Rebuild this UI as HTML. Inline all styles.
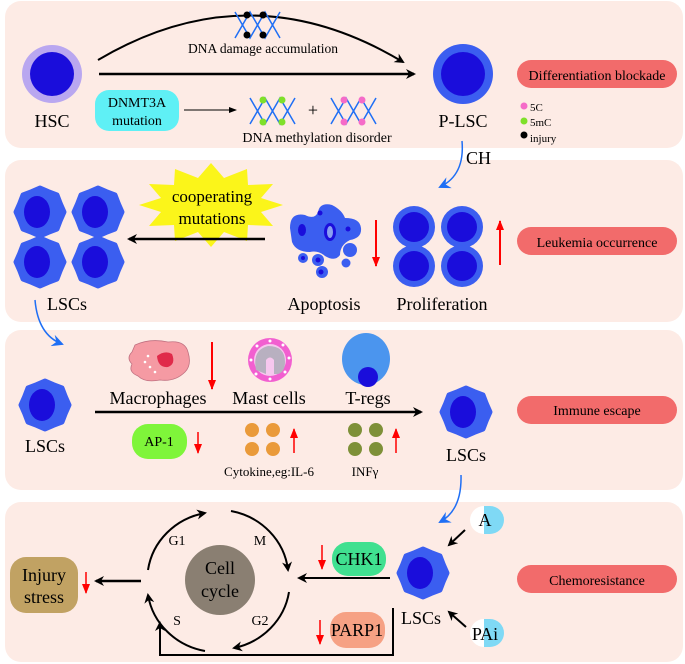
<!DOCTYPE html>
<html><head><meta charset="utf-8"><style>
html,body{margin:0;padding:0;background:#fff;}
svg{display:block;font-family:"Liberation Serif",serif;}
</style></head><body>
<svg width="685" height="664" viewBox="0 0 685 664" xmlns="http://www.w3.org/2000/svg">
<defs>
<marker id="ah" markerWidth="10" markerHeight="10" refX="8" refY="5" orient="auto" markerUnits="userSpaceOnUse"><path d="M0,0 L10,5 L0,10 L3,5 Z" fill="#000"/></marker>
<marker id="ahs" markerWidth="8" markerHeight="8" refX="7" refY="4" orient="auto" markerUnits="userSpaceOnUse"><path d="M0,1 L8,4 L0,7 Z" fill="#000"/></marker>
<marker id="ahb" markerWidth="12" markerHeight="12" refX="10" refY="6" orient="auto" markerUnits="userSpaceOnUse"><path d="M0,0 L12,6 L0,12 L4,6 Z" fill="#1f6ff5"/></marker>
<marker id="ahr" markerWidth="10" markerHeight="8" refX="9" refY="4" orient="auto" markerUnits="userSpaceOnUse"><path d="M0,0 L10,4 L0,8 Z" fill="#f00"/></marker>
<g id="lsc">
<polygon points="24,0 20.3,8.4 17,17 8.4,20.3 0,24 -8.4,20.3 -17,17 -20.3,8.4 -24,0 -20.3,-8.4 -17,-17 -8.4,-20.3 0,-24 8.4,-20.3 17,-17 20.3,-8.4" fill="#3b5ef0" stroke="#3b5ef0" stroke-width="5" stroke-linejoin="round"/>
<ellipse cx="-3" cy="0" rx="13" ry="16" fill="#1a0ddb"/>
</g>
<g id="dna" stroke="#1f6ff5" stroke-width="1.5" fill="none">
<polyline points="0,0 15,26 30,0 45,26"/><polyline points="0,26 15,0 30,26 45,0"/>
</g>
</defs>
<rect x="5" y="1" width="678" height="147" rx="16" fill="#fdebe5"/>
<rect x="5" y="160" width="678" height="162" rx="16" fill="#fdebe5"/>
<rect x="5" y="330" width="678" height="160" rx="16" fill="#fdebe5"/>
<rect x="5" y="502" width="678" height="160" rx="16" fill="#fdebe5"/>

<!-- panel 1 -->
<ellipse cx="52" cy="74" rx="30" ry="29" fill="#b9a7f0"/><circle cx="52" cy="74" r="22" fill="#1a0ddb"/>
<text x="52" y="127" font-size="18" text-anchor="middle">HSC</text>
<path d="M98,60 Q250,-30 403,62" stroke="#000" stroke-width="2" fill="none" marker-end="url(#ah)"/>
<line x1="99" y1="74" x2="414" y2="74" stroke="#000" stroke-width="2.5" marker-end="url(#ah)"/>
<use href="#dna" x="235" y="12"/>
<g fill="#000"><circle cx="247" cy="15" r="3.5"/><circle cx="263" cy="15" r="3.5"/><circle cx="247" cy="35" r="3.5"/><circle cx="263" cy="35" r="3.5"/></g>
<text x="263" y="53" font-size="13.5" text-anchor="middle">DNA damage accumulation</text>
<rect x="95" y="90" width="84" height="41" rx="14" fill="#5ff0f5"/>
<text x="137" y="107" font-size="14" text-anchor="middle">DNMT3A</text>
<text x="137" y="125" font-size="14" text-anchor="middle">mutation</text>
<line x1="184" y1="110" x2="236" y2="110" stroke="#000" stroke-width="1" marker-end="url(#ahs)"/>
<use href="#dna" x="250" y="98"/>
<g fill="#7fe02a"><circle cx="263" cy="100" r="3.5"/><circle cx="282" cy="100" r="3.5"/><circle cx="263" cy="122" r="3.5"/><circle cx="282" cy="122" r="3.5"/></g>
<text x="313" y="116" font-size="18" text-anchor="middle">+</text>
<use href="#dna" x="331" y="98"/>
<g fill="#f56bc8"><circle cx="344" cy="100" r="3.5"/><circle cx="362" cy="100" r="3.5"/><circle cx="344" cy="122" r="3.5"/><circle cx="362" cy="122" r="3.5"/></g>
<text x="317" y="142" font-size="14" text-anchor="middle">DNA methylation disorder</text>
<circle cx="463" cy="74" r="30" fill="#3b5ef0"/><circle cx="463" cy="74" r="22" fill="#1a0ddb"/>
<text x="463" y="127" font-size="18" text-anchor="middle">P-LSC</text>
<rect x="517" y="60" width="160" height="28" rx="14" fill="#f26b6b"/>
<text x="597" y="80" font-size="14" text-anchor="middle">Differentiation blockade</text>
<circle cx="524" cy="106" r="3.5" fill="#f56bc8"/><text x="530" y="111" font-size="11">5C</text>
<circle cx="524" cy="121" r="3.5" fill="#7fe02a"/><text x="530" y="126" font-size="11">5mC</text>
<circle cx="524" cy="135" r="3.5" fill="#000"/><text x="530" y="142" font-size="11">injury</text>
<path d="M462,141 Q465,175 440,187" stroke="#1f6ff5" stroke-width="1.5" fill="none" marker-end="url(#ahb)"/>
<text x="466" y="164" font-size="18">CH</text>

<!-- panel 2 -->
<use href="#lsc" x="40" y="212"/><use href="#lsc" x="98" y="212"/>
<use href="#lsc" x="40" y="262"/><use href="#lsc" x="98" y="262"/>
<polygon points="283,205 261,212 273,226 248,225 247,241 224,232 211,247 198,232 175,241 174,225 149,226 161,212 139,205 161,198 149,184 174,185 175,169 198,178 211,163 224,178 247,169 248,185 273,184 261,198" fill="#fbf51a"/>
<text x="212" y="202" font-size="17" text-anchor="middle">cooperating</text>
<text x="212" y="224" font-size="17" text-anchor="middle">mutations</text>
<line x1="265" y1="239" x2="129" y2="239" stroke="#000" stroke-width="2.5" marker-end="url(#ah)"/>
<g fill="#3b5ef0">
<path d="M290,228 Q290,212 305,215 Q315,220 318,212 Q320,202 332,205 Q342,210 345,218 Q360,218 361,228 Q362,238 350,240 Q340,245 340,255 Q335,262 325,256 Q318,250 310,252 Q296,252 292,242 Z"/>
<circle cx="350" cy="250" r="7"/><circle cx="346" cy="263" r="4.5"/><circle cx="318" cy="260" r="6"/><circle cx="322" cy="272" r="6"/><circle cx="303" cy="258" r="5"/>
</g>
<g fill="#1a0ddb"><ellipse cx="302" cy="230" rx="4" ry="6"/><ellipse cx="330" cy="232" rx="6" ry="9"/><circle cx="320" cy="213" r="2.5"/><circle cx="348" cy="229" r="2.5"/><circle cx="318" cy="260" r="2.5"/><circle cx="321" cy="272" r="2.5"/><circle cx="303" cy="258" r="2"/></g>
<ellipse cx="330" cy="232" rx="3" ry="6" fill="#8aa0f0"/>
<line x1="376" y1="220" x2="376" y2="266" stroke="#f00" stroke-width="2" marker-end="url(#ahr)"/>
<g><circle cx="414" cy="227" r="21" fill="#3b5ef0"/><circle cx="414" cy="227" r="15" fill="#1a0ddb"/>
<circle cx="462" cy="227" r="21" fill="#3b5ef0"/><circle cx="462" cy="227" r="15" fill="#1a0ddb"/>
<circle cx="414" cy="266" r="21" fill="#3b5ef0"/><circle cx="414" cy="266" r="15" fill="#1a0ddb"/>
<circle cx="462" cy="266" r="21" fill="#3b5ef0"/><circle cx="462" cy="266" r="15" fill="#1a0ddb"/></g>
<line x1="500" y1="265" x2="500" y2="221" stroke="#f00" stroke-width="2" marker-end="url(#ahr)"/>
<rect x="517" y="227" width="160" height="28" rx="14" fill="#f26b6b"/>
<text x="597" y="247" font-size="14" text-anchor="middle">Leukemia occurrence</text>
<text x="67" y="310" font-size="18" text-anchor="middle">LSCs</text>
<text x="324" y="310" font-size="18" text-anchor="middle">Apoptosis</text>
<text x="442" y="310" font-size="18" text-anchor="middle">Proliferation</text>
<path d="M35,300 Q38,335 62,344" stroke="#1f6ff5" stroke-width="1.5" fill="none" marker-end="url(#ahb)"/>

<!-- panel 3 -->
<use href="#lsc" x="45" y="405"/>
<text x="45" y="452" font-size="18" text-anchor="middle">LSCs</text>
<path d="M135,345 Q150,338 168,342 Q185,340 188,352 Q192,365 185,372 Q175,382 160,380 Q145,383 138,376 Q128,372 132,364 Q126,358 132,352 Z" fill="#f59aa3" stroke="#c07080" stroke-width="0.8"/>
<path d="M157,356 Q165,350 172,354 Q176,364 168,367 Q158,368 157,356 Z" fill="#e02a4a"/>
<g fill="#fff"><circle cx="145" cy="362" r="1.3"/><circle cx="150" cy="367" r="1.3"/><circle cx="155" cy="372" r="1.3"/><circle cx="148" cy="356" r="1.3"/></g>
<line x1="212" y1="342" x2="212" y2="389" stroke="#f00" stroke-width="2" marker-end="url(#ahr)"/>
<circle cx="270" cy="360" r="22" fill="#f25fd0"/><circle cx="270" cy="360" r="16" fill="#f7c7ee"/>
<path d="M256,370 Q252,350 268,346 Q285,346 285,362 Q285,372 278,374 L274,374 L274,360 Q270,355 266,360 L266,374 Z" fill="#b8b0c0"/>
<g fill="#fff"><circle cx="270" cy="341" r="1.5"/><circle cx="283" cy="345" r="1.5"/><circle cx="289" cy="358" r="1.5"/><circle cx="285" cy="372" r="1.5"/><circle cx="270" cy="379" r="1.5"/><circle cx="256" cy="374" r="1.5"/><circle cx="251" cy="360" r="1.5"/><circle cx="257" cy="346" r="1.5"/></g>
<ellipse cx="366" cy="359" rx="24" ry="26" fill="#4b95ee"/><circle cx="368" cy="377" r="10" fill="#1a0ddb"/>
<text x="158" y="404" font-size="18" text-anchor="middle">Macrophages</text>
<text x="269" y="404" font-size="18" text-anchor="middle">Mast cells</text>
<text x="368" y="404" font-size="18" text-anchor="middle">T-regs</text>
<line x1="95" y1="412" x2="421" y2="412" stroke="#000" stroke-width="2.5" marker-end="url(#ah)"/>
<rect x="132" y="424" width="55" height="35" rx="16" fill="#7ff53a"/>
<text x="159" y="446" font-size="14" text-anchor="middle">AP-1</text>
<line x1="198" y1="432" x2="198" y2="453" stroke="#f00" stroke-width="1.5" marker-end="url(#ahr)"/>
<g fill="#ea9a3a"><circle cx="252" cy="430" r="7"/><circle cx="273" cy="430" r="7"/><circle cx="252" cy="449" r="7"/><circle cx="273" cy="449" r="7"/></g>
<line x1="294" y1="453" x2="294" y2="429" stroke="#f00" stroke-width="1.5" marker-end="url(#ahr)"/>
<g fill="#7e9038"><circle cx="355" cy="430" r="7"/><circle cx="376" cy="430" r="7"/><circle cx="355" cy="449" r="7"/><circle cx="376" cy="449" r="7"/></g>
<line x1="396" y1="453" x2="396" y2="429" stroke="#f00" stroke-width="1.5" marker-end="url(#ahr)"/>
<text x="269" y="476" font-size="13" text-anchor="middle">Cytokine,eg:IL-6</text>
<text x="365" y="476" font-size="13" text-anchor="middle">INFγ</text>
<use href="#lsc" x="466" y="412"/>
<text x="466" y="461" font-size="18" text-anchor="middle">LSCs</text>
<rect x="517" y="396" width="160" height="28" rx="14" fill="#f26b6b"/>
<text x="597" y="415" font-size="14" text-anchor="middle">Immune escape</text>
<path d="M461,475 Q462,510 440,522" stroke="#1f6ff5" stroke-width="1.5" fill="none" marker-end="url(#ahb)"/>

<!-- panel 4 -->
<g stroke="#000" stroke-width="2" fill="none">
<path d="M148,570 A71,68 0 0 1 205,513" marker-end="url(#ah)"/>
<path d="M231,511 A71,68 0 0 1 288,570" marker-end="url(#ah)"/>
<path d="M289,592 A71,68 0 0 1 234,648" marker-end="url(#ah)"/>
<path d="M205,651 A71,68 0 0 1 148,595" marker-end="url(#ah)"/>
</g>
<circle cx="220" cy="580" r="35" fill="#8a7f72"/>
<text x="220" y="574" font-size="18" text-anchor="middle">Cell</text>
<text x="220" y="597" font-size="18" text-anchor="middle">cycle</text>
<text x="177" y="545" font-size="14" text-anchor="middle">G1</text>
<text x="260" y="545" font-size="14" text-anchor="middle">M</text>
<text x="177" y="625" font-size="14" text-anchor="middle">S</text>
<text x="260" y="625" font-size="14" text-anchor="middle">G2</text>
<rect x="10" y="557" width="68" height="56" rx="16" fill="#c1a263"/>
<text x="44" y="581" font-size="18" text-anchor="middle">Injury</text>
<text x="44" y="603" font-size="18" text-anchor="middle">stress</text>
<line x1="86" y1="572" x2="86" y2="593" stroke="#f00" stroke-width="1.5" marker-end="url(#ahr)"/>
<line x1="141" y1="581" x2="96" y2="581" stroke="#000" stroke-width="2.5" marker-end="url(#ah)"/>
<rect x="332" y="542" width="54" height="34" rx="16" fill="#40e090"/>
<text x="359" y="565" font-size="18" text-anchor="middle">CHK1</text>
<line x1="322" y1="545" x2="322" y2="569" stroke="#f00" stroke-width="1.5" marker-end="url(#ahr)"/>
<line x1="390" y1="578" x2="299" y2="578" stroke="#000" stroke-width="2" marker-end="url(#ah)"/>
<use href="#lsc" x="423" y="573"/>
<text x="421" y="624" font-size="18" text-anchor="middle">LSCs</text>
<rect x="330" y="612" width="55" height="36" rx="16" fill="#f6a184"/>
<text x="357" y="636" font-size="18" text-anchor="middle">PARP1</text>
<line x1="320" y1="620" x2="320" y2="644" stroke="#f00" stroke-width="1.5" marker-end="url(#ahr)"/>
<path d="M393,608 L393,655 L160,655 L160,623" stroke="#000" stroke-width="2" fill="none" marker-end="url(#ah)"/>
<path d="M484,506 A14,14 0 0 0 484,534 Z" fill="#fff"/><path d="M484,506 L490,506 A14,14 0 0 1 490,534 L484,534 Z" fill="#7fd9f5"/>
<text x="485" y="526" font-size="18" text-anchor="middle">A</text>
<path d="M484,619 A14,14 0 0 0 484,647 Z" fill="#fff"/><path d="M484,619 L490,619 A14,14 0 0 1 490,647 L484,647 Z" fill="#7fd9f5"/>
<text x="485" y="640" font-size="18" text-anchor="middle">PAi</text>
<line x1="465" y1="530" x2="449" y2="545" stroke="#000" stroke-width="2" marker-end="url(#ah)"/>
<line x1="466" y1="627" x2="449" y2="612" stroke="#000" stroke-width="2" marker-end="url(#ah)"/>
<rect x="517" y="565" width="160" height="28" rx="14" fill="#f26b6b"/>
<text x="597" y="585" font-size="14" text-anchor="middle">Chemoresistance</text>
</svg>
</body></html>
